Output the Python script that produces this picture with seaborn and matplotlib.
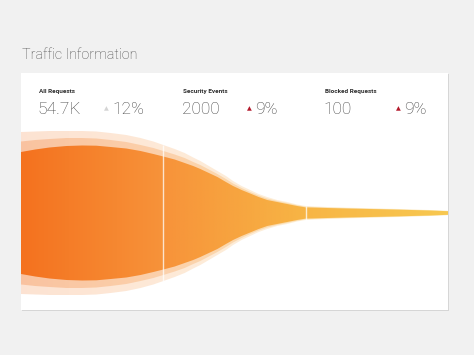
import numpy as np
import matplotlib
matplotlib.use("Agg")
import matplotlib.pyplot as plt
import seaborn as sns

# stage headers
stage_names = ["All Requests", "Security Events", "Blocked Requests"]
stage_values = ["54.7K", "2000", "100"]
stage_changes = ["12%", "9%", "9%"]
change_colors = ["#d4d4d4", "#b3192b", "#b3192b"]

# funnel profile (x in stage units, half widths)
prof_x = [0.0, 0.1, 0.2, 0.32, 0.43, 0.53, 0.63, 0.74, 0.84, 0.93, 1.0, 1.08, 1.15,
          1.21, 1.26, 1.32, 1.38, 1.44, 1.49, 1.55, 1.61, 1.67, 1.73, 1.8, 1.87,
          1.94, 2.0, 2.15, 2.31, 2.48, 2.66, 2.87, 3.0]
main_half = [61, 63.5, 65.5, 67, 67.5, 67.3, 66, 64.5, 62, 59, 56.5, 53.5, 50,
             47, 44, 40, 36, 31, 27, 23, 19.5, 16, 13, 11, 9,
             7, 5.6, 5, 4.4, 3.9, 3.3, 2.5, 1.8]
mid_half = [71.5, 73, 74, 75, 75, 74.5, 73, 71, 68, 65, 62, 58.5, 55,
            51, 48, 43.5, 39, 34, 29.5, 25, 21, 17.5, 14.5, 12, 10,
            7.8, 6.3, 5.5, 4.9, 4.3, 3.6, 2.8, 2.0]
outer_half = [81, 81.5, 82, 82, 82, 81.5, 80, 78, 75, 71.5, 68, 64, 60,
              55.5, 52, 47, 42, 37, 32, 27, 23, 19, 16, 13, 11,
              8.5, 7, 6, 5.3, 4.6, 4, 3.0, 2.2]
dividers = [1.0, 2.0]

sns.set_theme(style="white")
plt.rcParams['font.family'] = ['Roboto', 'DejaVu Sans']

fig = plt.figure(figsize=(4.74, 3.55), dpi=100, facecolor="#f1f1f1")
fig.text(22 / 474, 1 - 55 / 355, "Traffic Information", fontsize=10.3,
         color="#4a4a4a", fontweight="light", va="center", ha="left")

# card shadow + card
shadow = fig.add_axes([21.5 / 474, 1 - 311 / 355, 427.5 / 474, 237 / 355])
shadow.set_facecolor("#d6d6d6")
shadow.set_xticks([]); shadow.set_yticks([])
for s in shadow.spines.values():
    s.set_visible(False)

ax = fig.add_axes([21 / 474, 1 - 310 / 355, 427 / 474, 237 / 355])
ax.set_facecolor("white")
ax.set_xlim(0, 3)
ax.set_ylim(-97, 140)
ax.set_xticks([]); ax.set_yticks([])
for s in ax.spines.values():
    s.set_visible(False)

cmap = sns.blend_palette(["#f4721f", "#f7933a", "#f7b545", "#f8c850"], as_cmap=True)
grad = np.linspace(0, 1, 300).reshape(1, -1)
x = np.array(prof_x)

for half, alpha in [(outer_half, 0.2), (mid_half, 0.28), (main_half, 1.0)]:
    h = np.array(half)
    poly = ax.fill_between(x, -h, h, color="none", lw=0)
    im = ax.imshow(grad, extent=[0, 3, -90, 90], aspect="auto", cmap=cmap,
                   alpha=alpha, origin="lower", interpolation="bicubic")
    im.set_clip_path(poly.get_paths()[0], transform=ax.transData)

# stage dividers
for d in dividers:
    h = outer_half[prof_x.index(d)]
    ax.vlines(d, -h, h, color="white", lw=1, alpha=0.75)

# headers
label_x = [39, 183, 325]
arrow_x = [106, 249, 398]
for i in range(3):
    fx = (label_x[i] - 21) / 427
    ax.text(fx, (310 - 91.5) / 237, stage_names[i], transform=ax.transAxes,
            fontsize=4.6, fontweight="bold", color="#2e2e2e", va="center", ha="left")
    ax.text(fx - 0.003, (310 - 109) / 237, stage_values[i], transform=ax.transAxes,
            fontsize=12.5, fontweight="light", color="#444444", va="center", ha="left")
    ax.text((arrow_x[i] - 21) / 427, (310 - 108.5) / 237, "\u25B2", transform=ax.transAxes,
            fontsize=4.5, color=change_colors[i], va="center", ha="center",
            family=["DejaVu Sans"])
    ax.text((arrow_x[i] + 6 - 21) / 427, (310 - 109) / 237, stage_changes[i],
            transform=ax.transAxes, fontsize=12.5, fontweight="light",
            color="#444444", va="center", ha="left")

fig.savefig("out.png", dpi=100, facecolor=fig.get_facecolor())
